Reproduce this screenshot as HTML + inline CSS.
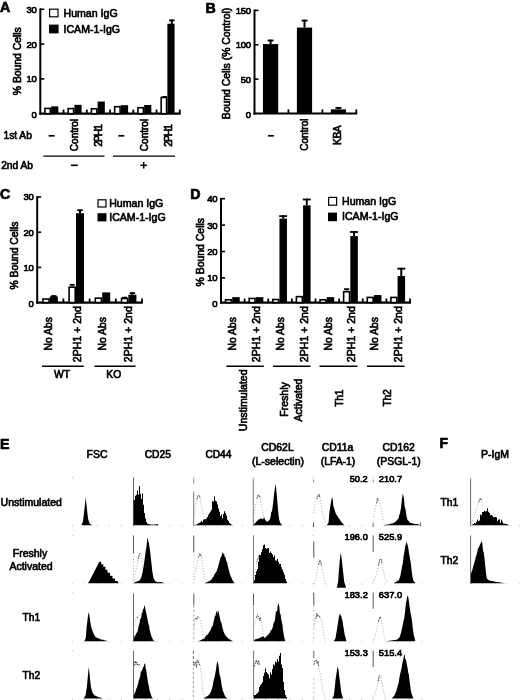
<!DOCTYPE html>
<html lang="en"><head><meta charset="utf-8"><title>Figure</title>
<style>
html,body{margin:0;padding:0;background:#fff;}
body{width:520px;height:700px;overflow:hidden;}
svg{display:block;}
svg text{fill:#000;font-family:"Liberation Sans",Arial,Helvetica,sans-serif;}
</style></head><body>
<svg width="520" height="700" viewBox="0 0 520 700" font-family="Liberation Sans, Arial, Helvetica, sans-serif">
<rect x="0" y="0" width="520" height="700" fill="#fff"/>
<text x="0.00" y="11.70" font-size="14.2" font-weight="bold" stroke="#000" stroke-width="0.7">A</text>
<line x1="40.30" y1="8.30" x2="40.30" y2="114.70" stroke="#000" stroke-width="2.0" />
<line x1="39.30" y1="113.70" x2="180.70" y2="113.70" stroke="#000" stroke-width="2.2" />
<line x1="40.30" y1="9.30" x2="44.30" y2="9.30" stroke="#000" stroke-width="1.6" />
<text x="36.45" y="12.70" font-size="9.5" text-anchor="end" letter-spacing="-0.35" stroke="#000" stroke-width="0.65">30</text>
<line x1="40.30" y1="44.10" x2="44.30" y2="44.10" stroke="#000" stroke-width="1.6" />
<text x="36.45" y="47.50" font-size="9.5" text-anchor="end" letter-spacing="-0.35" stroke="#000" stroke-width="0.65">20</text>
<line x1="40.30" y1="78.90" x2="44.30" y2="78.90" stroke="#000" stroke-width="1.6" />
<text x="36.45" y="82.30" font-size="9.5" text-anchor="end" letter-spacing="-0.35" stroke="#000" stroke-width="0.65">10</text>
<text x="36.80" y="118.10" font-size="9.5" text-anchor="end" stroke="#000" stroke-width="0.65">0</text>
<line x1="63.55" y1="113.70" x2="63.55" y2="109.60" stroke="#000" stroke-width="1.8" />
<line x1="86.80" y1="113.70" x2="86.80" y2="109.60" stroke="#000" stroke-width="1.8" />
<line x1="110.05" y1="113.70" x2="110.05" y2="109.60" stroke="#000" stroke-width="1.8" />
<line x1="133.30" y1="113.70" x2="133.30" y2="109.60" stroke="#000" stroke-width="1.8" />
<line x1="156.55" y1="113.70" x2="156.55" y2="109.60" stroke="#000" stroke-width="1.8" />
<line x1="179.80" y1="113.70" x2="179.80" y2="109.60" stroke="#000" stroke-width="1.8" />
<text transform="translate(20.50,61.20) rotate(-90)" font-size="10.3" text-anchor="middle" textLength="68" lengthAdjust="spacingAndGlyphs" stroke="#000" stroke-width="0.65">% Bound Cells</text>
<rect x="44.92" y="108.41" width="5.40" height="5.29" fill="#fff" stroke="#000" stroke-width="1.6"/>
<rect x="51.12" y="106.39" width="7.20" height="7.31" fill="#000"/>
<rect x="68.17" y="108.58" width="5.40" height="5.12" fill="#fff" stroke="#000" stroke-width="1.6"/>
<rect x="74.38" y="104.83" width="7.20" height="8.87" fill="#000"/>
<rect x="91.42" y="108.76" width="5.40" height="4.94" fill="#fff" stroke="#000" stroke-width="1.6"/>
<rect x="97.62" y="101.52" width="7.20" height="12.18" fill="#000"/>
<rect x="114.67" y="106.67" width="5.40" height="7.03" fill="#fff" stroke="#000" stroke-width="1.6"/>
<rect x="120.88" y="105.17" width="7.20" height="8.53" fill="#000"/>
<rect x="137.93" y="107.71" width="5.40" height="5.99" fill="#fff" stroke="#000" stroke-width="1.6"/>
<rect x="144.12" y="105.00" width="7.20" height="8.70" fill="#000"/>
<rect x="161.18" y="97.45" width="5.40" height="16.25" fill="#fff" stroke="#000" stroke-width="1.6"/>
<rect x="167.38" y="23.74" width="7.20" height="89.96" fill="#000"/>
<line x1="171.78" y1="19.50" x2="171.78" y2="24.00" stroke="#000" stroke-width="2.0" />
<line x1="168.97" y1="20.40" x2="174.58" y2="20.40" stroke="#000" stroke-width="1.8" />
<line x1="164.68" y1="95.97" x2="164.68" y2="97.17" stroke="#000" stroke-width="1" />
<line x1="162.48" y1="96.87" x2="166.88" y2="96.87" stroke="#000" stroke-width="1.8" />
<rect x="49.60" y="9.20" width="8.40" height="7.60" fill="#fff" stroke="#000" stroke-width="1.2"/>
<rect x="49.00" y="24.60" width="9.60" height="8.80" fill="#000"/>
<text x="63.50" y="17.00" font-size="10.6" stroke="#000" stroke-width="0.65">Human IgG</text>
<text x="63.50" y="32.80" font-size="10.6" stroke="#000" stroke-width="0.65">ICAM-1-IgG</text>
<text x="3.50" y="139.30" font-size="10.2" stroke="#000" stroke-width="0.65">1st Ab</text>
<text x="1.20" y="169.00" font-size="10.2" stroke="#000" stroke-width="0.65">2nd Ab</text>
<line x1="48.62" y1="135.80" x2="54.52" y2="135.80" stroke="#000" stroke-width="1.7" />
<text transform="translate(78.47,135.00) rotate(-90)" font-size="10" text-anchor="middle" stroke="#000" stroke-width="0.65">Control</text>
<text transform="translate(102.12,135.90) rotate(-90)" font-size="10.3" text-anchor="middle" letter-spacing="-1.05" stroke="#000" stroke-width="0.65">2PH1</text>
<line x1="118.38" y1="135.80" x2="124.27" y2="135.80" stroke="#000" stroke-width="1.7" />
<text transform="translate(148.23,135.00) rotate(-90)" font-size="10" text-anchor="middle" stroke="#000" stroke-width="0.65">Control</text>
<text transform="translate(171.88,135.90) rotate(-90)" font-size="10.3" text-anchor="middle" letter-spacing="-1.05" stroke="#000" stroke-width="0.65">2PH1</text>
<line x1="43.30" y1="156.10" x2="104.50" y2="156.10" stroke="#000" stroke-width="1.4" />
<line x1="113.00" y1="156.10" x2="175.00" y2="156.10" stroke="#000" stroke-width="1.4" />
<line x1="71.00" y1="165.30" x2="77.80" y2="165.30" stroke="#000" stroke-width="1.6" />
<line x1="140.40" y1="165.30" x2="147.00" y2="165.30" stroke="#000" stroke-width="1.5" />
<line x1="143.70" y1="162.00" x2="143.70" y2="168.60" stroke="#000" stroke-width="1.5" />
<text x="205.60" y="13.00" font-size="14.2" font-weight="bold" stroke="#000" stroke-width="0.7">B</text>
<line x1="254.50" y1="9.60" x2="254.50" y2="114.50" stroke="#000" stroke-width="2.0" />
<line x1="253.50" y1="113.50" x2="357.20" y2="113.50" stroke="#000" stroke-width="2.2" />
<line x1="254.50" y1="10.40" x2="258.50" y2="10.40" stroke="#000" stroke-width="1.6" />
<text x="250.65" y="13.80" font-size="9.5" text-anchor="end" letter-spacing="-0.35" stroke="#000" stroke-width="0.65">150</text>
<line x1="254.50" y1="44.77" x2="258.50" y2="44.77" stroke="#000" stroke-width="1.6" />
<text x="250.65" y="48.17" font-size="9.5" text-anchor="end" letter-spacing="-0.35" stroke="#000" stroke-width="0.65">100</text>
<line x1="254.50" y1="79.13" x2="258.50" y2="79.13" stroke="#000" stroke-width="1.6" />
<text x="250.65" y="82.53" font-size="9.5" text-anchor="end" letter-spacing="-0.35" stroke="#000" stroke-width="0.65">50</text>
<text x="251.00" y="117.90" font-size="9.5" text-anchor="end" stroke="#000" stroke-width="0.65">0</text>
<line x1="288.43" y1="113.50" x2="288.43" y2="109.40" stroke="#000" stroke-width="1.8" />
<line x1="322.37" y1="113.50" x2="322.37" y2="109.40" stroke="#000" stroke-width="1.8" />
<line x1="356.30" y1="113.50" x2="356.30" y2="109.40" stroke="#000" stroke-width="1.8" />
<text transform="translate(230.30,63.50) rotate(-90)" font-size="10.4" text-anchor="middle" stroke="#000" stroke-width="0.65">Bound Cells (% Control)</text>
<rect x="262.97" y="44.08" width="15.20" height="69.42" fill="#000"/>
<line x1="270.57" y1="39.61" x2="270.57" y2="44.08" stroke="#000" stroke-width="2.0" />
<line x1="267.57" y1="40.51" x2="273.57" y2="40.51" stroke="#000" stroke-width="1.8" />
<rect x="296.90" y="27.58" width="15.20" height="85.92" fill="#000"/>
<line x1="304.50" y1="19.68" x2="304.50" y2="27.58" stroke="#000" stroke-width="2.0" />
<line x1="301.50" y1="20.58" x2="307.50" y2="20.58" stroke="#000" stroke-width="1.8" />
<rect x="330.83" y="109.38" width="15.20" height="4.12" fill="#000"/>
<line x1="338.43" y1="106.97" x2="338.43" y2="109.38" stroke="#000" stroke-width="2.0" />
<line x1="335.43" y1="107.87" x2="341.43" y2="107.87" stroke="#000" stroke-width="1.8" />
<line x1="268.07" y1="135.80" x2="273.87" y2="135.80" stroke="#000" stroke-width="1.7" />
<text transform="translate(308.40,134.70) rotate(-90)" font-size="10" text-anchor="middle" stroke="#000" stroke-width="0.65">Control</text>
<text transform="translate(341.23,135.40) rotate(-90)" font-size="10.3" text-anchor="middle" letter-spacing="-0.55" stroke="#000" stroke-width="0.65">KBA</text>
<text x="0.00" y="198.70" font-size="14.2" font-weight="bold" stroke="#000" stroke-width="0.7">C</text>
<line x1="37.20" y1="196.20" x2="37.20" y2="303.60" stroke="#000" stroke-width="2.0" />
<line x1="36.20" y1="302.60" x2="142.90" y2="302.60" stroke="#000" stroke-width="2.2" />
<line x1="37.20" y1="197.00" x2="41.20" y2="197.00" stroke="#000" stroke-width="1.6" />
<text x="33.35" y="200.40" font-size="9.5" text-anchor="end" letter-spacing="-0.35" stroke="#000" stroke-width="0.65">30</text>
<line x1="37.20" y1="232.20" x2="41.20" y2="232.20" stroke="#000" stroke-width="1.6" />
<text x="33.35" y="235.60" font-size="9.5" text-anchor="end" letter-spacing="-0.35" stroke="#000" stroke-width="0.65">20</text>
<line x1="37.20" y1="267.40" x2="41.20" y2="267.40" stroke="#000" stroke-width="1.6" />
<text x="33.35" y="270.80" font-size="9.5" text-anchor="end" letter-spacing="-0.35" stroke="#000" stroke-width="0.65">10</text>
<text x="33.70" y="307.00" font-size="9.5" text-anchor="end" stroke="#000" stroke-width="0.65">0</text>
<line x1="63.40" y1="302.60" x2="63.40" y2="298.50" stroke="#000" stroke-width="1.8" />
<line x1="89.60" y1="302.60" x2="89.60" y2="298.50" stroke="#000" stroke-width="1.8" />
<line x1="115.80" y1="302.60" x2="115.80" y2="298.50" stroke="#000" stroke-width="1.8" />
<line x1="142.00" y1="302.60" x2="142.00" y2="298.50" stroke="#000" stroke-width="1.8" />
<text transform="translate(18.30,255.60) rotate(-90)" font-size="10.3" text-anchor="middle" textLength="68" lengthAdjust="spacingAndGlyphs" stroke="#000" stroke-width="0.65">% Bound Cells</text>
<rect x="42.90" y="299.00" width="6.10" height="3.60" fill="#fff" stroke="#000" stroke-width="1.6"/>
<rect x="49.80" y="296.44" width="8.00" height="6.16" fill="#000"/>
<line x1="53.80" y1="295.21" x2="53.80" y2="296.44" stroke="#000" stroke-width="2.0" />
<line x1="51.10" y1="296.11" x2="56.50" y2="296.11" stroke="#000" stroke-width="1.8" />
<rect x="69.10" y="287.21" width="6.10" height="15.39" fill="#fff" stroke="#000" stroke-width="1.6"/>
<rect x="76.00" y="213.19" width="8.00" height="89.41" fill="#000"/>
<line x1="72.20" y1="283.94" x2="72.20" y2="286.41" stroke="#000" stroke-width="1" />
<line x1="69.70" y1="284.84" x2="74.70" y2="284.84" stroke="#000" stroke-width="1.8" />
<line x1="80.00" y1="209.32" x2="80.00" y2="213.19" stroke="#000" stroke-width="2.0" />
<line x1="77.30" y1="210.22" x2="82.70" y2="210.22" stroke="#000" stroke-width="1.8" />
<rect x="95.30" y="298.12" width="6.10" height="4.48" fill="#fff" stroke="#000" stroke-width="1.6"/>
<rect x="102.20" y="292.39" width="8.00" height="10.21" fill="#000"/>
<rect x="121.50" y="298.47" width="6.10" height="4.13" fill="#fff" stroke="#000" stroke-width="1.6"/>
<rect x="128.40" y="294.68" width="8.00" height="7.92" fill="#000"/>
<line x1="124.60" y1="296.79" x2="124.60" y2="297.67" stroke="#000" stroke-width="1" />
<line x1="122.10" y1="297.69" x2="127.10" y2="297.69" stroke="#000" stroke-width="1.8" />
<line x1="132.40" y1="292.22" x2="132.40" y2="294.68" stroke="#000" stroke-width="2.0" />
<line x1="129.70" y1="293.12" x2="135.10" y2="293.12" stroke="#000" stroke-width="1.8" />
<rect x="98.00" y="199.80" width="8.00" height="7.20" fill="#fff" stroke="#000" stroke-width="1.2"/>
<rect x="97.50" y="213.20" width="9.00" height="8.20" fill="#000"/>
<text x="109.20" y="207.00" font-size="10.6" stroke="#000" stroke-width="0.65">Human IgG</text>
<text x="109.20" y="221.30" font-size="10.6" stroke="#000" stroke-width="0.65">ICAM-1-IgG</text>
<text transform="translate(51.80,333.80) rotate(-90)" font-size="10.3" text-anchor="middle" stroke="#000" stroke-width="0.65">No Abs</text>
<text transform="translate(80.80,334.20) rotate(-90)" font-size="10.4" text-anchor="middle" textLength="56" lengthAdjust="spacingAndGlyphs" stroke="#000" stroke-width="0.65">2PH1 + 2nd</text>
<text transform="translate(105.60,333.80) rotate(-90)" font-size="10.3" text-anchor="middle" stroke="#000" stroke-width="0.65">No Abs</text>
<text transform="translate(132.20,334.20) rotate(-90)" font-size="10.4" text-anchor="middle" textLength="56" lengthAdjust="spacingAndGlyphs" stroke="#000" stroke-width="0.65">2PH1 + 2nd</text>
<line x1="42.00" y1="366.20" x2="83.80" y2="366.20" stroke="#000" stroke-width="1.5" />
<line x1="94.50" y1="366.20" x2="135.60" y2="366.20" stroke="#000" stroke-width="1.5" />
<text x="62.00" y="378.00" font-size="10.3" text-anchor="middle" stroke="#000" stroke-width="0.65">WT</text>
<text x="113.80" y="378.00" font-size="10.3" text-anchor="middle" stroke="#000" stroke-width="0.65">KO</text>
<text x="190.30" y="198.70" font-size="14.2" font-weight="bold" stroke="#000" stroke-width="0.7">D</text>
<line x1="221.00" y1="197.90" x2="221.00" y2="303.60" stroke="#000" stroke-width="2.0" />
<line x1="220.00" y1="302.60" x2="410.90" y2="302.60" stroke="#000" stroke-width="2.2" />
<line x1="221.00" y1="198.70" x2="225.00" y2="198.70" stroke="#000" stroke-width="1.6" />
<text x="217.15" y="202.10" font-size="9.5" text-anchor="end" letter-spacing="-0.35" stroke="#000" stroke-width="0.65">40</text>
<line x1="221.00" y1="225.10" x2="225.00" y2="225.10" stroke="#000" stroke-width="1.6" />
<text x="217.15" y="228.50" font-size="9.5" text-anchor="end" letter-spacing="-0.35" stroke="#000" stroke-width="0.65">30</text>
<line x1="221.00" y1="251.50" x2="225.00" y2="251.50" stroke="#000" stroke-width="1.6" />
<text x="217.15" y="254.90" font-size="9.5" text-anchor="end" letter-spacing="-0.35" stroke="#000" stroke-width="0.65">20</text>
<line x1="221.00" y1="277.90" x2="225.00" y2="277.90" stroke="#000" stroke-width="1.6" />
<text x="217.15" y="281.30" font-size="9.5" text-anchor="end" letter-spacing="-0.35" stroke="#000" stroke-width="0.65">10</text>
<text x="217.50" y="307.00" font-size="9.5" text-anchor="end" stroke="#000" stroke-width="0.65">0</text>
<line x1="244.62" y1="302.60" x2="244.62" y2="298.50" stroke="#000" stroke-width="1.8" />
<line x1="268.25" y1="302.60" x2="268.25" y2="298.50" stroke="#000" stroke-width="1.8" />
<line x1="291.88" y1="302.60" x2="291.88" y2="298.50" stroke="#000" stroke-width="1.8" />
<line x1="315.50" y1="302.60" x2="315.50" y2="298.50" stroke="#000" stroke-width="1.8" />
<line x1="339.12" y1="302.60" x2="339.12" y2="298.50" stroke="#000" stroke-width="1.8" />
<line x1="362.75" y1="302.60" x2="362.75" y2="298.50" stroke="#000" stroke-width="1.8" />
<line x1="386.38" y1="302.60" x2="386.38" y2="298.50" stroke="#000" stroke-width="1.8" />
<line x1="410.00" y1="302.60" x2="410.00" y2="298.50" stroke="#000" stroke-width="1.8" />
<text transform="translate(203.90,252.20) rotate(-90)" font-size="10.3" text-anchor="middle" textLength="68.5" lengthAdjust="spacingAndGlyphs" stroke="#000" stroke-width="0.65">% Bound Cells</text>
<rect x="225.51" y="299.76" width="5.90" height="2.84" fill="#fff" stroke="#000" stroke-width="1.6"/>
<rect x="232.21" y="297.14" width="7.50" height="5.46" fill="#000"/>
<rect x="249.14" y="298.46" width="5.90" height="4.14" fill="#fff" stroke="#000" stroke-width="1.6"/>
<rect x="255.84" y="297.14" width="7.50" height="5.46" fill="#000"/>
<rect x="272.76" y="299.50" width="5.90" height="3.10" fill="#fff" stroke="#000" stroke-width="1.6"/>
<rect x="279.46" y="218.62" width="7.50" height="83.98" fill="#000"/>
<line x1="283.16" y1="215.24" x2="283.16" y2="218.62" stroke="#000" stroke-width="2.0" />
<line x1="279.16" y1="216.14" x2="287.16" y2="216.14" stroke="#000" stroke-width="1.8" />
<rect x="296.39" y="296.64" width="5.90" height="5.96" fill="#fff" stroke="#000" stroke-width="1.6"/>
<rect x="303.09" y="205.36" width="7.50" height="97.24" fill="#000"/>
<line x1="306.79" y1="198.60" x2="306.79" y2="205.36" stroke="#000" stroke-width="2.0" />
<line x1="302.79" y1="199.50" x2="310.79" y2="199.50" stroke="#000" stroke-width="1.8" />
<rect x="320.01" y="299.76" width="5.90" height="2.84" fill="#fff" stroke="#000" stroke-width="1.6"/>
<rect x="326.71" y="297.14" width="7.50" height="5.46" fill="#000"/>
<rect x="343.64" y="291.70" width="5.90" height="10.90" fill="#fff" stroke="#000" stroke-width="1.6"/>
<rect x="350.34" y="236.04" width="7.50" height="66.56" fill="#000"/>
<line x1="346.64" y1="288.30" x2="346.64" y2="290.90" stroke="#000" stroke-width="1" />
<line x1="344.04" y1="289.20" x2="349.24" y2="289.20" stroke="#000" stroke-width="1.8" />
<line x1="354.04" y1="231.10" x2="354.04" y2="236.04" stroke="#000" stroke-width="2.0" />
<line x1="350.04" y1="232.00" x2="358.04" y2="232.00" stroke="#000" stroke-width="1.8" />
<rect x="367.26" y="297.42" width="5.90" height="5.18" fill="#fff" stroke="#000" stroke-width="1.6"/>
<rect x="373.96" y="295.06" width="7.50" height="7.54" fill="#000"/>
<rect x="390.89" y="297.42" width="5.90" height="5.18" fill="#fff" stroke="#000" stroke-width="1.6"/>
<rect x="397.59" y="276.08" width="7.50" height="26.52" fill="#000"/>
<line x1="401.29" y1="267.76" x2="401.29" y2="276.08" stroke="#000" stroke-width="2.0" />
<line x1="397.29" y1="268.66" x2="405.29" y2="268.66" stroke="#000" stroke-width="1.8" />
<rect x="328.60" y="197.40" width="8.00" height="7.80" fill="#fff" stroke="#000" stroke-width="1.2"/>
<rect x="328.00" y="212.60" width="9.00" height="8.60" fill="#000"/>
<text x="342.00" y="205.00" font-size="10.6" stroke="#000" stroke-width="0.65">Human IgG</text>
<text x="342.00" y="220.30" font-size="10.6" stroke="#000" stroke-width="0.65">ICAM-1-IgG</text>
<text transform="translate(235.80,333.80) rotate(-90)" font-size="10.3" text-anchor="middle" stroke="#000" stroke-width="0.65">No Abs</text>
<text transform="translate(260.30,334.20) rotate(-90)" font-size="10.4" text-anchor="middle" textLength="56" lengthAdjust="spacingAndGlyphs" stroke="#000" stroke-width="0.65">2PH1 + 2nd</text>
<text transform="translate(284.00,333.80) rotate(-90)" font-size="10.3" text-anchor="middle" stroke="#000" stroke-width="0.65">No Abs</text>
<text transform="translate(307.70,334.20) rotate(-90)" font-size="10.4" text-anchor="middle" textLength="56" lengthAdjust="spacingAndGlyphs" stroke="#000" stroke-width="0.65">2PH1 + 2nd</text>
<text transform="translate(331.50,333.80) rotate(-90)" font-size="10.3" text-anchor="middle" stroke="#000" stroke-width="0.65">No Abs</text>
<text transform="translate(355.20,334.20) rotate(-90)" font-size="10.4" text-anchor="middle" textLength="56" lengthAdjust="spacingAndGlyphs" stroke="#000" stroke-width="0.65">2PH1 + 2nd</text>
<text transform="translate(378.40,333.80) rotate(-90)" font-size="10.3" text-anchor="middle" stroke="#000" stroke-width="0.65">No Abs</text>
<text transform="translate(402.20,334.20) rotate(-90)" font-size="10.4" text-anchor="middle" textLength="56" lengthAdjust="spacingAndGlyphs" stroke="#000" stroke-width="0.65">2PH1 + 2nd</text>
<line x1="226.30" y1="366.20" x2="263.80" y2="366.20" stroke="#000" stroke-width="1.5" />
<line x1="273.00" y1="366.20" x2="310.50" y2="366.20" stroke="#000" stroke-width="1.5" />
<line x1="319.50" y1="366.20" x2="357.50" y2="366.20" stroke="#000" stroke-width="1.5" />
<line x1="367.00" y1="366.20" x2="404.50" y2="366.20" stroke="#000" stroke-width="1.5" />
<text transform="translate(246.80,400.30) rotate(-90)" font-size="10.6" text-anchor="middle" stroke="#000" stroke-width="0.65">Unstimulated</text>
<text transform="translate(288.00,399.50) rotate(-90)" font-size="10.6" text-anchor="middle" stroke="#000" stroke-width="0.65">Freshly</text>
<text transform="translate(301.50,400.00) rotate(-90)" font-size="10.4" text-anchor="middle" stroke="#000" stroke-width="0.65">Activated</text>
<text transform="translate(342.80,398.30) rotate(-90)" font-size="10.3" text-anchor="middle" letter-spacing="-0.3" stroke="#000" stroke-width="0.65">Th1</text>
<text transform="translate(390.80,398.00) rotate(-90)" font-size="10.3" text-anchor="middle" letter-spacing="-0.3" stroke="#000" stroke-width="0.65">Th2</text>
<text x="0.00" y="448.80" font-size="14.2" font-weight="bold" stroke="#000" stroke-width="0.7">E</text>
<text x="439.50" y="447.50" font-size="13.8" font-weight="bold" stroke="#000" stroke-width="0.7">F</text>
<text x="97.00" y="458.00" font-size="10.5" text-anchor="middle" stroke="#000" stroke-width="0.65">FSC</text>
<text x="157.80" y="458.00" font-size="10.2" text-anchor="middle" stroke="#000" stroke-width="0.65">CD25</text>
<text x="218.40" y="458.00" font-size="10.2" text-anchor="middle" stroke="#000" stroke-width="0.65">CD44</text>
<text x="277.50" y="451.30" font-size="10.4" text-anchor="middle" stroke="#000" stroke-width="0.65">CD62L</text>
<text x="278.00" y="465.00" font-size="10.5" text-anchor="middle" stroke="#000" stroke-width="0.65">(L-selectin)</text>
<text x="337.50" y="451.30" font-size="10.4" text-anchor="middle" stroke="#000" stroke-width="0.65">CD11a</text>
<text x="338.00" y="465.00" font-size="10.4" text-anchor="middle" stroke="#000" stroke-width="0.65">(LFA-1)</text>
<text x="398.70" y="451.30" font-size="10.4" text-anchor="middle" stroke="#000" stroke-width="0.65">CD162</text>
<text x="398.80" y="465.00" font-size="10.4" text-anchor="middle" stroke="#000" stroke-width="0.65">(PSGL-1)</text>
<text x="495.00" y="458.00" font-size="10.5" text-anchor="middle" stroke="#000" stroke-width="0.65">P-IgM</text>
<text x="31.20" y="506.00" font-size="10.5" text-anchor="middle" stroke="#000" stroke-width="0.65">Unstimulated</text>
<text x="30.00" y="557.00" font-size="10.5" text-anchor="middle" stroke="#000" stroke-width="0.65">Freshly</text>
<text x="31.00" y="570.00" font-size="10.5" text-anchor="middle" stroke="#000" stroke-width="0.65">Activated</text>
<text x="22.50" y="621.30" font-size="10.2" stroke="#000" stroke-width="0.65">Th1</text>
<text x="22.50" y="678.80" font-size="10.2" stroke="#000" stroke-width="0.65">Th2</text>
<text x="440.60" y="506.30" font-size="10.2" stroke="#000" stroke-width="0.65">Th1</text>
<text x="440.60" y="564.00" font-size="10.2" stroke="#000" stroke-width="0.65">Th2</text>
<text x="367.80" y="481.80" font-size="9.3" text-anchor="end" stroke="#000" stroke-width="0.65">50.2</text>
<text x="378.80" y="481.80" font-size="9.3" stroke="#000" stroke-width="0.65">210.7</text>
<text x="367.80" y="539.50" font-size="9.3" text-anchor="end" stroke="#000" stroke-width="0.65">196.0</text>
<text x="378.80" y="539.50" font-size="9.3" stroke="#000" stroke-width="0.65">525.9</text>
<text x="367.80" y="597.60" font-size="9.3" text-anchor="end" stroke="#000" stroke-width="0.65">183.2</text>
<text x="378.80" y="597.60" font-size="9.3" stroke="#000" stroke-width="0.65">637.0</text>
<text x="367.80" y="655.50" font-size="9.3" text-anchor="end" stroke="#000" stroke-width="0.65">153.3</text>
<text x="378.80" y="655.50" font-size="9.3" stroke="#000" stroke-width="0.65">515.4</text>
<line x1="72.50" y1="525.20" x2="72.50" y2="526.40" stroke="#bbb" stroke-width="0.8" />
<line x1="84.70" y1="525.20" x2="84.70" y2="526.40" stroke="#bbb" stroke-width="0.8" />
<line x1="96.90" y1="525.20" x2="96.90" y2="526.40" stroke="#bbb" stroke-width="0.8" />
<line x1="109.10" y1="525.20" x2="109.10" y2="526.40" stroke="#bbb" stroke-width="0.8" />
<line x1="121.30" y1="525.20" x2="121.30" y2="526.40" stroke="#bbb" stroke-width="0.8" />
<line x1="72.00" y1="477.50" x2="73.30" y2="477.50" stroke="#bbb" stroke-width="0.8" />
<line x1="133.20" y1="525.20" x2="133.20" y2="526.40" stroke="#bbb" stroke-width="0.8" />
<line x1="145.40" y1="525.20" x2="145.40" y2="526.40" stroke="#bbb" stroke-width="0.8" />
<line x1="157.60" y1="525.20" x2="157.60" y2="526.40" stroke="#bbb" stroke-width="0.8" />
<line x1="169.80" y1="525.20" x2="169.80" y2="526.40" stroke="#bbb" stroke-width="0.8" />
<line x1="182.00" y1="525.20" x2="182.00" y2="526.40" stroke="#bbb" stroke-width="0.8" />
<line x1="132.70" y1="477.50" x2="134.00" y2="477.50" stroke="#bbb" stroke-width="0.8" />
<line x1="193.50" y1="525.20" x2="193.50" y2="526.40" stroke="#bbb" stroke-width="0.8" />
<line x1="205.70" y1="525.20" x2="205.70" y2="526.40" stroke="#bbb" stroke-width="0.8" />
<line x1="217.90" y1="525.20" x2="217.90" y2="526.40" stroke="#bbb" stroke-width="0.8" />
<line x1="230.10" y1="525.20" x2="230.10" y2="526.40" stroke="#bbb" stroke-width="0.8" />
<line x1="242.30" y1="525.20" x2="242.30" y2="526.40" stroke="#bbb" stroke-width="0.8" />
<line x1="193.00" y1="477.50" x2="194.30" y2="477.50" stroke="#bbb" stroke-width="0.8" />
<line x1="253.50" y1="525.20" x2="253.50" y2="526.40" stroke="#bbb" stroke-width="0.8" />
<line x1="265.70" y1="525.20" x2="265.70" y2="526.40" stroke="#bbb" stroke-width="0.8" />
<line x1="277.90" y1="525.20" x2="277.90" y2="526.40" stroke="#bbb" stroke-width="0.8" />
<line x1="290.10" y1="525.20" x2="290.10" y2="526.40" stroke="#bbb" stroke-width="0.8" />
<line x1="302.30" y1="525.20" x2="302.30" y2="526.40" stroke="#bbb" stroke-width="0.8" />
<line x1="253.00" y1="477.50" x2="254.30" y2="477.50" stroke="#bbb" stroke-width="0.8" />
<line x1="313.00" y1="525.20" x2="313.00" y2="526.40" stroke="#bbb" stroke-width="0.8" />
<line x1="325.20" y1="525.20" x2="325.20" y2="526.40" stroke="#bbb" stroke-width="0.8" />
<line x1="337.40" y1="525.20" x2="337.40" y2="526.40" stroke="#bbb" stroke-width="0.8" />
<line x1="349.60" y1="525.20" x2="349.60" y2="526.40" stroke="#bbb" stroke-width="0.8" />
<line x1="361.80" y1="525.20" x2="361.80" y2="526.40" stroke="#bbb" stroke-width="0.8" />
<line x1="312.50" y1="477.50" x2="313.80" y2="477.50" stroke="#bbb" stroke-width="0.8" />
<line x1="373.00" y1="525.20" x2="373.00" y2="526.40" stroke="#bbb" stroke-width="0.8" />
<line x1="385.20" y1="525.20" x2="385.20" y2="526.40" stroke="#bbb" stroke-width="0.8" />
<line x1="397.40" y1="525.20" x2="397.40" y2="526.40" stroke="#bbb" stroke-width="0.8" />
<line x1="409.60" y1="525.20" x2="409.60" y2="526.40" stroke="#bbb" stroke-width="0.8" />
<line x1="421.80" y1="525.20" x2="421.80" y2="526.40" stroke="#bbb" stroke-width="0.8" />
<line x1="372.50" y1="477.50" x2="373.80" y2="477.50" stroke="#bbb" stroke-width="0.8" />
<line x1="72.50" y1="583.20" x2="72.50" y2="584.40" stroke="#bbb" stroke-width="0.8" />
<line x1="84.70" y1="583.20" x2="84.70" y2="584.40" stroke="#bbb" stroke-width="0.8" />
<line x1="96.90" y1="583.20" x2="96.90" y2="584.40" stroke="#bbb" stroke-width="0.8" />
<line x1="109.10" y1="583.20" x2="109.10" y2="584.40" stroke="#bbb" stroke-width="0.8" />
<line x1="121.30" y1="583.20" x2="121.30" y2="584.40" stroke="#bbb" stroke-width="0.8" />
<line x1="72.00" y1="535.50" x2="73.30" y2="535.50" stroke="#bbb" stroke-width="0.8" />
<line x1="133.20" y1="583.20" x2="133.20" y2="584.40" stroke="#bbb" stroke-width="0.8" />
<line x1="145.40" y1="583.20" x2="145.40" y2="584.40" stroke="#bbb" stroke-width="0.8" />
<line x1="157.60" y1="583.20" x2="157.60" y2="584.40" stroke="#bbb" stroke-width="0.8" />
<line x1="169.80" y1="583.20" x2="169.80" y2="584.40" stroke="#bbb" stroke-width="0.8" />
<line x1="182.00" y1="583.20" x2="182.00" y2="584.40" stroke="#bbb" stroke-width="0.8" />
<line x1="132.70" y1="535.50" x2="134.00" y2="535.50" stroke="#bbb" stroke-width="0.8" />
<line x1="193.50" y1="583.20" x2="193.50" y2="584.40" stroke="#bbb" stroke-width="0.8" />
<line x1="205.70" y1="583.20" x2="205.70" y2="584.40" stroke="#bbb" stroke-width="0.8" />
<line x1="217.90" y1="583.20" x2="217.90" y2="584.40" stroke="#bbb" stroke-width="0.8" />
<line x1="230.10" y1="583.20" x2="230.10" y2="584.40" stroke="#bbb" stroke-width="0.8" />
<line x1="242.30" y1="583.20" x2="242.30" y2="584.40" stroke="#bbb" stroke-width="0.8" />
<line x1="193.00" y1="535.50" x2="194.30" y2="535.50" stroke="#bbb" stroke-width="0.8" />
<line x1="253.50" y1="583.20" x2="253.50" y2="584.40" stroke="#bbb" stroke-width="0.8" />
<line x1="265.70" y1="583.20" x2="265.70" y2="584.40" stroke="#bbb" stroke-width="0.8" />
<line x1="277.90" y1="583.20" x2="277.90" y2="584.40" stroke="#bbb" stroke-width="0.8" />
<line x1="290.10" y1="583.20" x2="290.10" y2="584.40" stroke="#bbb" stroke-width="0.8" />
<line x1="302.30" y1="583.20" x2="302.30" y2="584.40" stroke="#bbb" stroke-width="0.8" />
<line x1="253.00" y1="535.50" x2="254.30" y2="535.50" stroke="#bbb" stroke-width="0.8" />
<line x1="313.00" y1="583.20" x2="313.00" y2="584.40" stroke="#bbb" stroke-width="0.8" />
<line x1="325.20" y1="583.20" x2="325.20" y2="584.40" stroke="#bbb" stroke-width="0.8" />
<line x1="337.40" y1="583.20" x2="337.40" y2="584.40" stroke="#bbb" stroke-width="0.8" />
<line x1="349.60" y1="583.20" x2="349.60" y2="584.40" stroke="#bbb" stroke-width="0.8" />
<line x1="361.80" y1="583.20" x2="361.80" y2="584.40" stroke="#bbb" stroke-width="0.8" />
<line x1="312.50" y1="535.50" x2="313.80" y2="535.50" stroke="#bbb" stroke-width="0.8" />
<line x1="373.00" y1="583.20" x2="373.00" y2="584.40" stroke="#bbb" stroke-width="0.8" />
<line x1="385.20" y1="583.20" x2="385.20" y2="584.40" stroke="#bbb" stroke-width="0.8" />
<line x1="397.40" y1="583.20" x2="397.40" y2="584.40" stroke="#bbb" stroke-width="0.8" />
<line x1="409.60" y1="583.20" x2="409.60" y2="584.40" stroke="#bbb" stroke-width="0.8" />
<line x1="421.80" y1="583.20" x2="421.80" y2="584.40" stroke="#bbb" stroke-width="0.8" />
<line x1="372.50" y1="535.50" x2="373.80" y2="535.50" stroke="#bbb" stroke-width="0.8" />
<line x1="72.50" y1="641.20" x2="72.50" y2="642.40" stroke="#bbb" stroke-width="0.8" />
<line x1="84.70" y1="641.20" x2="84.70" y2="642.40" stroke="#bbb" stroke-width="0.8" />
<line x1="96.90" y1="641.20" x2="96.90" y2="642.40" stroke="#bbb" stroke-width="0.8" />
<line x1="109.10" y1="641.20" x2="109.10" y2="642.40" stroke="#bbb" stroke-width="0.8" />
<line x1="121.30" y1="641.20" x2="121.30" y2="642.40" stroke="#bbb" stroke-width="0.8" />
<line x1="72.00" y1="593.00" x2="73.30" y2="593.00" stroke="#bbb" stroke-width="0.8" />
<line x1="133.20" y1="641.20" x2="133.20" y2="642.40" stroke="#bbb" stroke-width="0.8" />
<line x1="145.40" y1="641.20" x2="145.40" y2="642.40" stroke="#bbb" stroke-width="0.8" />
<line x1="157.60" y1="641.20" x2="157.60" y2="642.40" stroke="#bbb" stroke-width="0.8" />
<line x1="169.80" y1="641.20" x2="169.80" y2="642.40" stroke="#bbb" stroke-width="0.8" />
<line x1="182.00" y1="641.20" x2="182.00" y2="642.40" stroke="#bbb" stroke-width="0.8" />
<line x1="132.70" y1="593.00" x2="134.00" y2="593.00" stroke="#bbb" stroke-width="0.8" />
<line x1="193.50" y1="641.20" x2="193.50" y2="642.40" stroke="#bbb" stroke-width="0.8" />
<line x1="205.70" y1="641.20" x2="205.70" y2="642.40" stroke="#bbb" stroke-width="0.8" />
<line x1="217.90" y1="641.20" x2="217.90" y2="642.40" stroke="#bbb" stroke-width="0.8" />
<line x1="230.10" y1="641.20" x2="230.10" y2="642.40" stroke="#bbb" stroke-width="0.8" />
<line x1="242.30" y1="641.20" x2="242.30" y2="642.40" stroke="#bbb" stroke-width="0.8" />
<line x1="193.00" y1="593.00" x2="194.30" y2="593.00" stroke="#bbb" stroke-width="0.8" />
<line x1="253.50" y1="641.20" x2="253.50" y2="642.40" stroke="#bbb" stroke-width="0.8" />
<line x1="265.70" y1="641.20" x2="265.70" y2="642.40" stroke="#bbb" stroke-width="0.8" />
<line x1="277.90" y1="641.20" x2="277.90" y2="642.40" stroke="#bbb" stroke-width="0.8" />
<line x1="290.10" y1="641.20" x2="290.10" y2="642.40" stroke="#bbb" stroke-width="0.8" />
<line x1="302.30" y1="641.20" x2="302.30" y2="642.40" stroke="#bbb" stroke-width="0.8" />
<line x1="253.00" y1="593.00" x2="254.30" y2="593.00" stroke="#bbb" stroke-width="0.8" />
<line x1="313.00" y1="641.20" x2="313.00" y2="642.40" stroke="#bbb" stroke-width="0.8" />
<line x1="325.20" y1="641.20" x2="325.20" y2="642.40" stroke="#bbb" stroke-width="0.8" />
<line x1="337.40" y1="641.20" x2="337.40" y2="642.40" stroke="#bbb" stroke-width="0.8" />
<line x1="349.60" y1="641.20" x2="349.60" y2="642.40" stroke="#bbb" stroke-width="0.8" />
<line x1="361.80" y1="641.20" x2="361.80" y2="642.40" stroke="#bbb" stroke-width="0.8" />
<line x1="312.50" y1="593.00" x2="313.80" y2="593.00" stroke="#bbb" stroke-width="0.8" />
<line x1="373.00" y1="641.20" x2="373.00" y2="642.40" stroke="#bbb" stroke-width="0.8" />
<line x1="385.20" y1="641.20" x2="385.20" y2="642.40" stroke="#bbb" stroke-width="0.8" />
<line x1="397.40" y1="641.20" x2="397.40" y2="642.40" stroke="#bbb" stroke-width="0.8" />
<line x1="409.60" y1="641.20" x2="409.60" y2="642.40" stroke="#bbb" stroke-width="0.8" />
<line x1="421.80" y1="641.20" x2="421.80" y2="642.40" stroke="#bbb" stroke-width="0.8" />
<line x1="372.50" y1="593.00" x2="373.80" y2="593.00" stroke="#bbb" stroke-width="0.8" />
<line x1="72.50" y1="698.60" x2="72.50" y2="699.80" stroke="#bbb" stroke-width="0.8" />
<line x1="84.70" y1="698.60" x2="84.70" y2="699.80" stroke="#bbb" stroke-width="0.8" />
<line x1="96.90" y1="698.60" x2="96.90" y2="699.80" stroke="#bbb" stroke-width="0.8" />
<line x1="109.10" y1="698.60" x2="109.10" y2="699.80" stroke="#bbb" stroke-width="0.8" />
<line x1="121.30" y1="698.60" x2="121.30" y2="699.80" stroke="#bbb" stroke-width="0.8" />
<line x1="72.00" y1="650.80" x2="73.30" y2="650.80" stroke="#bbb" stroke-width="0.8" />
<line x1="133.20" y1="698.60" x2="133.20" y2="699.80" stroke="#bbb" stroke-width="0.8" />
<line x1="145.40" y1="698.60" x2="145.40" y2="699.80" stroke="#bbb" stroke-width="0.8" />
<line x1="157.60" y1="698.60" x2="157.60" y2="699.80" stroke="#bbb" stroke-width="0.8" />
<line x1="169.80" y1="698.60" x2="169.80" y2="699.80" stroke="#bbb" stroke-width="0.8" />
<line x1="182.00" y1="698.60" x2="182.00" y2="699.80" stroke="#bbb" stroke-width="0.8" />
<line x1="132.70" y1="650.80" x2="134.00" y2="650.80" stroke="#bbb" stroke-width="0.8" />
<line x1="193.50" y1="698.60" x2="193.50" y2="699.80" stroke="#bbb" stroke-width="0.8" />
<line x1="205.70" y1="698.60" x2="205.70" y2="699.80" stroke="#bbb" stroke-width="0.8" />
<line x1="217.90" y1="698.60" x2="217.90" y2="699.80" stroke="#bbb" stroke-width="0.8" />
<line x1="230.10" y1="698.60" x2="230.10" y2="699.80" stroke="#bbb" stroke-width="0.8" />
<line x1="242.30" y1="698.60" x2="242.30" y2="699.80" stroke="#bbb" stroke-width="0.8" />
<line x1="193.00" y1="650.80" x2="194.30" y2="650.80" stroke="#bbb" stroke-width="0.8" />
<line x1="253.50" y1="698.60" x2="253.50" y2="699.80" stroke="#bbb" stroke-width="0.8" />
<line x1="265.70" y1="698.60" x2="265.70" y2="699.80" stroke="#bbb" stroke-width="0.8" />
<line x1="277.90" y1="698.60" x2="277.90" y2="699.80" stroke="#bbb" stroke-width="0.8" />
<line x1="290.10" y1="698.60" x2="290.10" y2="699.80" stroke="#bbb" stroke-width="0.8" />
<line x1="302.30" y1="698.60" x2="302.30" y2="699.80" stroke="#bbb" stroke-width="0.8" />
<line x1="253.00" y1="650.80" x2="254.30" y2="650.80" stroke="#bbb" stroke-width="0.8" />
<line x1="313.00" y1="698.60" x2="313.00" y2="699.80" stroke="#bbb" stroke-width="0.8" />
<line x1="325.20" y1="698.60" x2="325.20" y2="699.80" stroke="#bbb" stroke-width="0.8" />
<line x1="337.40" y1="698.60" x2="337.40" y2="699.80" stroke="#bbb" stroke-width="0.8" />
<line x1="349.60" y1="698.60" x2="349.60" y2="699.80" stroke="#bbb" stroke-width="0.8" />
<line x1="361.80" y1="698.60" x2="361.80" y2="699.80" stroke="#bbb" stroke-width="0.8" />
<line x1="312.50" y1="650.80" x2="313.80" y2="650.80" stroke="#bbb" stroke-width="0.8" />
<line x1="373.00" y1="698.60" x2="373.00" y2="699.80" stroke="#bbb" stroke-width="0.8" />
<line x1="385.20" y1="698.60" x2="385.20" y2="699.80" stroke="#bbb" stroke-width="0.8" />
<line x1="397.40" y1="698.60" x2="397.40" y2="699.80" stroke="#bbb" stroke-width="0.8" />
<line x1="409.60" y1="698.60" x2="409.60" y2="699.80" stroke="#bbb" stroke-width="0.8" />
<line x1="421.80" y1="698.60" x2="421.80" y2="699.80" stroke="#bbb" stroke-width="0.8" />
<line x1="372.50" y1="650.80" x2="373.80" y2="650.80" stroke="#bbb" stroke-width="0.8" />
<line x1="470.70" y1="525.20" x2="470.70" y2="526.40" stroke="#bbb" stroke-width="0.8" />
<line x1="482.90" y1="525.20" x2="482.90" y2="526.40" stroke="#bbb" stroke-width="0.8" />
<line x1="495.10" y1="525.20" x2="495.10" y2="526.40" stroke="#bbb" stroke-width="0.8" />
<line x1="507.30" y1="525.20" x2="507.30" y2="526.40" stroke="#bbb" stroke-width="0.8" />
<line x1="519.50" y1="525.20" x2="519.50" y2="526.40" stroke="#bbb" stroke-width="0.8" />
<line x1="470.20" y1="477.50" x2="471.50" y2="477.50" stroke="#bbb" stroke-width="0.8" />
<line x1="470.70" y1="583.20" x2="470.70" y2="584.40" stroke="#bbb" stroke-width="0.8" />
<line x1="482.90" y1="583.20" x2="482.90" y2="584.40" stroke="#bbb" stroke-width="0.8" />
<line x1="495.10" y1="583.20" x2="495.10" y2="584.40" stroke="#bbb" stroke-width="0.8" />
<line x1="507.30" y1="583.20" x2="507.30" y2="584.40" stroke="#bbb" stroke-width="0.8" />
<line x1="519.50" y1="583.20" x2="519.50" y2="584.40" stroke="#bbb" stroke-width="0.8" />
<line x1="470.20" y1="535.50" x2="471.50" y2="535.50" stroke="#bbb" stroke-width="0.8" />
<path d="M81.5,525.2 L82.2,523.2 L83.0,521.2 L83.7,515.0 L84.4,509.2 L85.1,503.2 L85.7,496.7 L86.3,503.3 L87.0,509.2 L87.6,514.7 L88.2,519.2 L88.7,520.7 L89.3,522.0 L89.8,523.7 L90.3,524.1 L90.9,524.4 L91.5,524.8 L92.0,525.2 Z" fill="#000"/>
<line x1="133.50" y1="477.80" x2="133.50" y2="525.70" stroke="#444" stroke-width="0.8" />
<path d="M133.6,525.2 V499.7 H134.0 V500.1 H135.0 V495.8 H136.0 V494.7 H137.0 V490.6 H138.0 V494.8 H139.0 V485.9 H140.0 V493.9 H141.0 V499.0 H142.0 V493.5 H143.0 V504.8 H144.0 V513.1 H145.0 V518.5 H146.0 V522.0 H147.0 V523.4 H148.0 V524.1 H149.0 V524.2 H150.0 V524.4 H151.0 V524.6 H152.0 V524.5 H153.0 V524.8 H154.0 V524.6 H155.0 V524.5 H156.0 V524.0 H157.0 V524.2 H158.0 V524.9 H158.5 V525.2 Z" fill="#000"/>
<line x1="193.70" y1="478.70" x2="193.70" y2="483.50" stroke="#666" stroke-width="0.8" />
<line x1="193.70" y1="491.50" x2="193.70" y2="525.70" stroke="#555" stroke-width="0.8" />
<path d="M194.2,515.2 L195.5,506.2 L197.0,499.2 L198.7,495.2 L200.2,498.2 L201.3,505.2 L202.3,508.2 L203.3,516.2 L204.6,522.2" fill="none" stroke="#999" stroke-width="0.8" stroke-dasharray="1 1.8"/>
<path d="M197.0,499.2 L197.8,495.7 L198.7,495.2 L199.4,495.8 L200.2,498.2" fill="none" stroke="#333" stroke-width="0.9" stroke-dasharray="1.6 0.9"/>
<path d="M194.0,525.2 V525.1 H195.0 V524.7 H196.0 V524.5 H197.0 V523.9 H198.0 V523.2 H199.0 V522.8 H200.0 V522.3 H201.0 V520.9 H202.0 V522.3 H203.0 V519.8 H204.0 V519.2 H205.0 V519.3 H206.0 V518.6 H207.0 V517.1 H208.0 V514.7 H209.0 V513.2 H210.0 V511.7 H211.0 V510.1 H212.0 V501.2 H213.0 V501.6 H214.0 V496.5 H215.0 V500.7 H216.0 V501.6 H217.0 V504.6 H218.0 V508.6 H219.0 V511.7 H220.0 V516.1 H221.0 V514.4 H222.0 V518.3 H223.0 V514.1 H224.0 V511.3 H225.0 V513.1 H226.0 V515.5 H227.0 V519.8 H228.0 V521.0 H229.0 V522.9 H230.0 V523.7 H231.0 V524.4 H232.0 V524.9 H233.0 V525.2 Z" fill="#000"/>
<line x1="253.30" y1="478.70" x2="253.30" y2="525.70" stroke="#555" stroke-width="0.8" />
<path d="M254.0,513.2 L255.5,505.2 L257.0,498.2 L258.7,495.2 L260.2,498.2 L261.3,506.2 L262.3,508.2 L263.3,515.2 L264.6,518.2" fill="none" stroke="#999" stroke-width="0.8" stroke-dasharray="1 1.8"/>
<path d="M257.0,498.2 L257.9,495.2 L258.7,495.2 L259.4,495.2 L260.2,498.2" fill="none" stroke="#333" stroke-width="0.9" stroke-dasharray="1.6 0.9"/>
<path d="M253.6,525.2 L254.3,524.1 L255.0,523.2 L255.6,522.7 L256.2,522.1 L256.8,521.1 L257.4,520.4 L258.0,520.2 L258.6,519.2 L259.2,519.4 L259.9,518.7 L260.5,518.2 L261.2,519.0 L261.8,518.2 L262.5,519.2 L263.2,519.0 L264.0,517.2 L264.8,518.9 L265.5,520.2 L266.2,521.0 L266.8,521.4 L267.5,521.7 L268.1,520.9 L268.8,520.8 L269.4,519.8 L270.0,519.2 L270.7,516.0 L271.3,511.9 L272.0,511.2 L272.8,505.8 L273.5,499.2 L274.2,492.8 L275.0,487.2 L275.8,483.7 L276.3,490.3 L276.8,495.2 L277.4,502.6 L278.0,509.2 L278.6,515.4 L279.3,520.2 L279.9,521.7 L280.4,522.7 L281.0,524.2 L281.7,524.6 L282.3,524.9 L283.0,525.2 Z" fill="#000"/>
<line x1="313.60" y1="479.50" x2="313.60" y2="482.50" stroke="#777" stroke-width="0.9" />
<line x1="313.60" y1="522.50" x2="313.60" y2="527.00" stroke="#444" stroke-width="0.9" />
<path d="M313.8,513.2 L315.0,504.2 L316.5,498.2 L317.4,496.1 L318.3,494.7 L319.8,497.2 L321.0,503.2 L322.3,512.2 L323.8,518.2 L325.5,522.2 L327.0,524.7" fill="none" stroke="#999" stroke-width="0.8" stroke-dasharray="1 1.8"/>
<path d="M316.5,498.2 L317.4,498.5 L318.3,494.7 L319.1,493.9 L319.8,497.2" fill="none" stroke="#333" stroke-width="0.9" stroke-dasharray="1.6 0.9"/>
<path d="M327.0,525.2 L327.5,524.1 L328.1,523.2 L328.6,522.2 L329.4,512.2 L330.0,508.6 L330.6,504.2 L331.1,501.6 L331.6,499.2 L332.2,496.9 L332.9,500.2 L333.4,506.4 L333.8,507.2 L334.4,509.1 L335.0,511.2 L335.8,513.4 L336.5,514.7 L337.2,515.8 L337.8,516.5 L338.5,518.0 L339.2,518.5 L339.8,519.8 L340.5,520.7 L341.2,521.7 L341.8,522.4 L342.5,523.2 L343.1,523.9 L343.7,524.5 L344.3,525.2 Z" fill="#000"/>
<line x1="373.20" y1="479.50" x2="373.20" y2="482.50" stroke="#777" stroke-width="0.9" />
<line x1="373.20" y1="522.50" x2="373.20" y2="527.00" stroke="#666" stroke-width="0.9" />
<path d="M373.5,517.2 L375.0,509.2 L376.7,503.2 L378.3,500.7 L379.8,503.2 L381.3,510.2 L382.8,518.2 L384.3,522.7 L385.8,524.7" fill="none" stroke="#999" stroke-width="0.8" stroke-dasharray="1 1.8"/>
<path d="M376.7,503.2 L377.5,498.0 L378.3,500.7" fill="none" stroke="#333" stroke-width="0.9" stroke-dasharray="1.6 0.9"/>
<path d="M383.5,525.2 L384.1,525.1 L384.7,525.0 L385.3,524.8 L385.9,524.8 L386.6,524.7 L387.2,524.5 L387.8,524.4 L388.4,524.3 L389.0,524.2 L389.6,524.2 L390.1,523.9 L390.7,523.8 L391.3,523.6 L391.9,523.6 L392.4,523.4 L393.0,523.2 L393.6,522.9 L394.2,522.5 L394.8,521.9 L395.4,521.9 L396.0,521.2 L396.6,520.4 L397.2,519.5 L397.9,519.4 L398.5,518.2 L399.2,515.2 L400.0,513.2 L400.9,508.2 L401.4,503.4 L402.0,499.2 L402.5,495.1 L403.0,493.9 L403.5,496.5 L404.0,498.2 L404.6,506.2 L405.3,508.2 L405.9,512.0 L406.5,516.2 L407.1,518.5 L407.7,520.2 L408.3,520.7 L408.9,521.2 L409.4,522.2 L410.0,522.7 L410.6,522.7 L411.1,523.0 L411.7,523.2 L412.3,523.2 L412.9,523.4 L413.4,523.5 L414.0,523.7 L414.6,523.7 L415.1,523.9 L415.7,523.9 L416.3,523.9 L416.9,524.1 L417.4,524.0 L418.0,524.2 L418.6,524.4 L419.3,524.7 L420.0,524.9 L420.6,525.2 Z" fill="#000"/>
<line x1="420.40" y1="522.20" x2="420.40" y2="526.40" stroke="#555" stroke-width="0.9" />
<line x1="470.60" y1="478.80" x2="470.60" y2="526.20" stroke="#444" stroke-width="0.8" />
<path d="M471.3,523.2 L472.6,520.2 L474.0,516.2 L475.5,512.2 L477.0,507.2 L478.6,502.2 L480.4,498.2 L481.6,500.2 L482.8,507.2" fill="none" stroke="#999" stroke-width="0.8" stroke-dasharray="1 1.8"/>
<path d="M478.6,502.2 L479.5,499.7 L480.4,498.2 L481.0,500.0 L481.6,500.2" fill="none" stroke="#333" stroke-width="0.9" stroke-dasharray="1.6 0.9"/>
<path d="M471.3,525.2 V525.0 H472.0 V524.4 H473.0 V523.9 H474.0 V522.9 H475.0 V523.4 H476.0 V522.1 H477.0 V519.6 H478.0 V521.0 H479.0 V520.6 H480.0 V514.5 H481.0 V515.2 H482.0 V511.9 H483.0 V512.0 H484.0 V510.7 H485.0 V511.6 H486.0 V511.0 H487.0 V508.2 H488.0 V511.7 H489.0 V512.9 H490.0 V515.3 H491.0 V515.0 H492.0 V515.7 H493.0 V517.2 H494.0 V517.1 H495.0 V517.0 H496.0 V517.5 H497.0 V520.7 H498.0 V519.8 H499.0 V519.3 H500.0 V523.0 H501.0 V519.8 H502.0 V521.7 H503.0 V523.4 H504.0 V523.7 H505.0 V523.7 H506.0 V524.1 H507.0 V524.6 H508.0 V524.9 H509.0 V525.1 H509.5 V525.2 Z" fill="#000"/>
<path d="M88.0,583.2 L90.3,579.2 L93.2,573.7 L96.0,568.2 L98.3,563.7 L99.5,561.8 L101.2,561.8 L101.2,564.2 L103.3,564.2 L103.3,566.7 L105.4,566.7 L105.4,569.7 L107.5,569.7 L107.5,572.7 L110.0,572.7 L110.0,575.7 L112.5,575.7 L112.5,578.5 L115.0,578.5 L115.0,581.0 L117.6,581.0 L118.6,583.2 Z" fill="#000"/>
<line x1="133.50" y1="535.80" x2="133.50" y2="553.00" stroke="#444" stroke-width="0.9" />
<line x1="133.50" y1="553.00" x2="133.50" y2="583.20" stroke="#999" stroke-width="0.7" stroke-dasharray="1.2 1.8"/>
<path d="M134.0,580.2 L135.3,574.2 L136.7,566.2 L138.2,559.2 L139.6,554.2 L140.4,552.9 L141.4,556.2 L142.3,563.2 L143.2,571.2" fill="none" stroke="#999" stroke-width="0.8" stroke-dasharray="1 1.8"/>
<path d="M138.2,559.2 L138.9,555.6 L139.6,554.2 L140.4,552.9" fill="none" stroke="#333" stroke-width="0.9" stroke-dasharray="1.6 0.9"/>
<path d="M133.7,583.2 L134.3,582.6 L135.0,582.0 L135.6,581.9 L136.2,581.7 L136.8,581.6 L137.4,581.3 L138.0,581.2 L138.6,580.8 L139.2,580.5 L139.8,580.2 L140.6,578.7 L141.3,577.2 L141.9,574.8 L142.6,572.2 L143.1,569.2 L143.6,566.2 L144.1,563.0 L144.5,560.2 L145.1,555.9 L145.6,551.2 L146.2,548.8 L146.8,543.2 L147.4,537.8 L148.0,539.6 L148.5,542.2 L149.0,543.2 L149.6,548.2 L150.2,552.2 L150.8,557.4 L151.3,562.2 L151.8,566.0 L152.3,571.2 L152.8,574.1 L153.3,577.2 L153.9,578.7 L154.4,579.7 L155.0,581.0 L155.6,581.2 L156.2,581.4 L156.8,581.8 L157.4,581.9 L158.0,582.2 L158.6,582.2 L159.2,582.1 L159.8,582.0 L160.4,582.1 L161.0,582.0 L161.6,582.2 L162.2,582.4 L162.8,582.6 L163.4,582.8 L164.0,583.0 L164.6,583.2 Z" fill="#000"/>
<line x1="193.80" y1="535.80" x2="193.80" y2="552.00" stroke="#444" stroke-width="0.9" />
<line x1="193.80" y1="552.00" x2="193.80" y2="583.20" stroke="#aaa" stroke-width="0.6" stroke-dasharray="1 2"/>
<path d="M194.2,580.2 L195.3,573.2 L196.8,564.2 L198.4,557.2 L200.0,553.7 L201.4,557.2 L202.6,564.2 L203.8,573.2 L205.0,579.2 L206.2,582.2" fill="none" stroke="#999" stroke-width="0.8" stroke-dasharray="1 1.8"/>
<path d="M198.4,557.2 L199.2,555.8 L200.0,553.7 L200.7,554.5 L201.4,557.2" fill="none" stroke="#333" stroke-width="0.9" stroke-dasharray="1.6 0.9"/>
<path d="M204.6,583.2 L205.2,582.9 L205.7,582.8 L206.3,582.5 L206.9,582.2 L207.4,582.0 L208.0,581.7 L208.6,581.3 L209.2,581.3 L209.8,580.8 L210.4,580.2 L211.0,580.2 L211.6,579.2 L212.1,578.4 L212.7,577.4 L213.2,576.9 L213.8,576.2 L214.4,574.5 L214.9,573.7 L215.4,573.2 L216.0,572.2 L216.6,571.4 L217.2,569.2 L217.8,568.2 L218.6,564.4 L219.3,562.2 L220.1,559.0 L220.8,557.2 L221.4,556.6 L222.0,554.2 L222.5,552.1 L223.0,553.0 L223.6,554.1 L224.2,554.2 L224.8,557.1 L225.5,557.2 L226.2,560.8 L227.0,562.2 L227.7,565.3 L228.4,568.2 L229.0,570.4 L229.6,573.2 L230.1,574.8 L230.7,576.2 L231.3,577.3 L231.9,578.9 L232.5,580.2 L233.2,581.2 L233.9,582.2 L234.6,583.2 Z" fill="#000"/>
<line x1="253.50" y1="535.80" x2="253.50" y2="583.70" stroke="#555" stroke-width="0.8" />
<path d="M254.3,578.2 L255.6,570.2 L257.0,562.2 L258.4,556.7 L259.3,554.7" fill="none" stroke="#999" stroke-width="0.8" stroke-dasharray="1 1.8"/>
<path d="M257.0,562.2 L257.7,560.0 L258.4,556.7 L259.3,554.7" fill="none" stroke="#333" stroke-width="0.9" stroke-dasharray="1.6 0.9"/>
<path d="M253.8,583.2 V582.7 H254.0 V580.2 H255.0 V574.9 H256.0 V571.2 H257.0 V569.1 H258.0 V561.9 H259.0 V554.9 H260.0 V555.1 H261.0 V552.3 H262.0 V549.2 H263.0 V545.3 H264.0 V544.4 H265.0 V547.9 H266.0 V548.8 H267.0 V548.2 H268.0 V548.1 H269.0 V553.0 H270.0 V551.4 H271.0 V552.9 H272.0 V554.6 H273.0 V556.9 H274.0 V555.4 H275.0 V560.3 H276.0 V560.7 H277.0 V559.0 H278.0 V562.1 H279.0 V564.0 H280.0 V564.1 H281.0 V567.3 H282.0 V569.8 H283.0 V572.3 H284.0 V574.7 H285.0 V579.0 H286.0 V581.5 H287.0 V583.2 Z" fill="#000"/>
<line x1="313.80" y1="541.50" x2="313.80" y2="557.70" stroke="#444" stroke-width="0.9" />
<path d="M313.8,586.7 L315.5,579.7 L317.0,571.7 L318.5,564.7 L320.0,560.2 L321.5,565.7 L323.0,573.7 L323.9,578.1 L324.8,581.7 L325.9,584.7 L327.0,587.2" fill="none" stroke="#999" stroke-width="0.8" stroke-dasharray="1 1.8"/>
<path d="M318.5,564.7 L319.2,562.6 L320.0,560.2 L320.8,561.3 L321.5,565.7" fill="none" stroke="#333" stroke-width="0.9" stroke-dasharray="1.6 0.9"/>
<path d="M336.8,587.7 L337.4,585.2 L338.0,582.7 L338.9,570.7 L339.4,565.0 L339.8,559.7 L340.3,556.5 L340.8,552.2 L341.3,556.2 L341.8,559.7 L342.4,565.4 L343.0,570.7 L343.6,576.2 L344.2,581.7 L344.8,583.7 L345.5,585.7 L346.1,587.7 Z" fill="#000"/>
<line x1="373.20" y1="535.80" x2="373.20" y2="552.00" stroke="#444" stroke-width="0.9" />
<path d="M373.0,582.2 L374.0,580.2 L375.0,578.2 L375.9,575.2 L376.8,572.2 L378.5,565.2 L379.8,560.2 L380.7,558.7 L382.0,563.2 L383.5,571.2 L385.0,578.2 L386.0,580.3 L387.0,582.2" fill="none" stroke="#999" stroke-width="0.8" stroke-dasharray="1 1.8"/>
<path d="M378.5,565.2 L379.1,562.4 L379.8,560.2 L380.7,558.7 L381.4,560.4 L382.0,563.2" fill="none" stroke="#333" stroke-width="0.9" stroke-dasharray="1.6 0.9"/>
<path d="M393.5,583.2 L394.2,582.8 L394.9,582.5 L395.5,582.1 L396.2,581.7 L396.8,581.4 L397.3,581.0 L397.9,580.6 L398.4,580.4 L399.0,580.0 L399.6,578.1 L400.3,576.2 L401.0,572.4 L401.7,568.2 L402.4,565.1 L403.0,562.2 L403.5,556.4 L404.0,554.2 L404.6,550.8 L405.2,546.2 L405.9,544.6 L406.5,541.4 L407.1,543.5 L407.7,545.2 L408.4,548.4 L409.0,553.2 L409.6,556.3 L410.1,559.2 L410.7,562.2 L411.1,566.2 L411.6,570.2 L412.5,577.2 L413.1,579.3 L413.7,581.2 L414.3,581.8 L414.9,582.5 L415.5,583.2 Z" fill="#000"/>
<line x1="470.60" y1="536.00" x2="470.60" y2="584.00" stroke="#444" stroke-width="0.8" />
<path d="M470.9,583.2 L470.9,574.2 L471.4,572.5 L472.0,570.9 L472.5,569.2 L473.2,566.5 L474.0,563.7 L474.6,561.8 L475.2,559.7 L475.7,557.0 L476.3,556.1 L476.8,553.7 L477.4,551.5 L477.9,548.3 L478.5,548.2 L479.2,546.2 L480.0,544.7 L480.7,543.1 L481.4,542.2 L481.9,540.4 L482.5,545.2 L483.1,551.8 L483.6,551.2 L484.5,558.2 L485.3,566.2 L486.0,573.2 L486.8,578.2 L487.4,578.9 L487.9,579.6 L488.5,580.0 L489.1,580.5 L489.8,580.3 L490.4,580.7 L491.0,580.9 L491.6,581.1 L492.2,580.7 L492.7,581.1 L493.3,581.2 L493.9,581.5 L494.5,581.6 L495.1,581.7 L495.7,581.7 L496.3,582.0 L497.0,582.0 L497.6,582.1 L498.2,582.1 L498.8,582.2 L499.4,582.3 L500.0,582.5 L500.7,582.5 L501.3,582.6 L501.9,582.7 L502.5,582.8 L503.1,582.9 L503.8,583.0 L504.4,583.1 L505.0,583.2 Z" fill="#000"/>
<path d="M84.3,641.2 L85.0,639.7 L85.7,638.2 L86.6,627.2 L87.2,622.8 L87.8,617.2 L88.3,614.1 L88.9,612.2 L89.8,618.2 L90.3,621.6 L90.8,625.2 L91.4,627.6 L92.0,629.7 L92.8,631.5 L93.5,633.7 L94.1,634.5 L94.8,636.0 L95.4,636.7 L96.1,637.3 L96.7,637.6 L97.3,637.9 L98.0,638.2 L98.6,638.6 L99.2,638.5 L99.8,638.9 L100.4,639.2 L101.0,639.4 L101.6,639.6 L102.2,639.8 L102.8,639.8 L103.3,639.8 L103.9,640.0 L104.5,640.2 L105.1,640.4 L105.7,640.5 L106.2,640.7 L106.8,640.8 L107.4,641.0 L108.0,641.2 Z" fill="#000"/>
<line x1="133.50" y1="593.80" x2="133.50" y2="641.70" stroke="#444" stroke-width="0.8" />
<path d="M134.2,625.2 L135.5,620.2 L136.8,617.2 L138.0,617.7 L139.2,614.7" fill="none" stroke="#999" stroke-width="0.8" stroke-dasharray="1 1.8"/>
<path d="M136.8,617.2 L138.0,617.7" fill="none" stroke="#333" stroke-width="0.9" stroke-dasharray="1.6 0.9"/>
<path d="M133.8,641.2 L133.8,638.2 L134.4,636.8 L134.9,635.8 L135.5,635.2 L136.2,633.8 L137.0,632.2 L137.5,631.5 L138.0,629.7 L138.6,626.2 L139.2,624.2 L139.8,622.1 L140.4,618.2 L141.1,618.2 L141.8,612.7 L142.4,612.9 L143.0,608.7 L143.7,609.2 L144.3,605.2 L144.9,606.3 L145.5,609.7 L146.0,611.4 L146.5,614.2 L147.3,618.2 L147.9,621.3 L148.5,624.2 L149.0,625.1 L149.5,629.2 L150.3,632.2 L151.0,634.9 L151.7,637.2 L152.3,638.1 L152.9,639.5 L153.5,640.7 L154.1,640.8 L154.8,641.0 L155.4,641.1 L156.0,641.2 Z" fill="#000"/>
<line x1="193.80" y1="593.80" x2="193.80" y2="605.30" stroke="#444" stroke-width="0.9" />
<line x1="193.80" y1="605.30" x2="193.80" y2="641.20" stroke="#888" stroke-width="0.7" stroke-dasharray="2.5 2"/>
<path d="M194.0,627.2 L194.8,621.2 L195.6,618.2 L196.6,618.0 L197.5,616.7 L199.0,617.2 L200.2,619.2 L201.3,624.2 L202.3,631.2 L203.4,637.2 L204.6,640.4" fill="none" stroke="#999" stroke-width="0.8" stroke-dasharray="1 1.8"/>
<path d="M195.6,618.2 L196.6,619.8 L197.5,616.7 L198.2,617.5 L199.0,617.2" fill="none" stroke="#333" stroke-width="0.9" stroke-dasharray="1.6 0.9"/>
<path d="M197.7,641.2 L198.2,641.0 L198.8,640.9 L199.3,640.7 L199.9,640.5 L200.4,640.3 L201.0,640.2 L201.6,639.8 L202.2,639.3 L202.8,639.3 L203.4,639.0 L204.0,638.7 L204.6,638.2 L205.2,636.9 L205.8,636.2 L206.4,635.3 L206.9,635.3 L207.4,634.7 L208.0,634.2 L208.7,632.9 L209.3,631.8 L210.0,631.2 L210.6,630.0 L211.1,628.8 L211.6,627.3 L212.2,625.7 L212.8,626.5 L213.4,622.5 L214.0,620.2 L214.8,616.1 L215.5,615.7 L216.2,611.3 L216.8,611.7 L217.3,614.8 L217.8,610.0 L218.3,611.3 L218.8,612.2 L219.4,615.5 L220.0,618.2 L220.5,621.1 L221.0,622.2 L221.5,622.9 L222.0,625.7 L222.8,629.0 L223.5,631.2 L224.2,632.9 L225.0,634.7 L225.6,635.4 L226.2,636.2 L226.8,637.1 L227.3,637.4 L227.9,638.1 L228.5,638.7 L229.1,639.0 L229.8,639.5 L230.4,639.8 L231.0,640.2 L231.6,640.4 L232.2,640.7 L232.9,640.9 L233.5,641.2 Z" fill="#000"/>
<line x1="253.50" y1="593.80" x2="253.50" y2="605.30" stroke="#444" stroke-width="0.9" />
<line x1="253.50" y1="605.30" x2="253.50" y2="641.20" stroke="#777" stroke-width="0.7" />
<path d="M254.2,626.2 L255.3,620.2 L256.5,617.7 L257.5,619.3 L258.5,616.7 L259.6,615.4 L260.7,617.7 L261.8,623.2 L262.8,630.2 L263.8,634.7" fill="none" stroke="#999" stroke-width="0.8" stroke-dasharray="1 1.8"/>
<path d="M256.5,617.7 L257.5,614.5 L258.5,616.7 L259.2,617.9 L260.0,621.0 L260.7,617.7" fill="none" stroke="#333" stroke-width="0.9" stroke-dasharray="1.6 0.9"/>
<path d="M253.9,641.2 L254.4,640.3 L255.0,639.4 L255.6,639.1 L256.2,639.5 L256.8,638.6 L257.4,638.9 L258.0,638.6 L258.6,638.4 L259.2,638.2 L259.8,637.7 L260.4,637.4 L261.0,637.2 L261.6,636.9 L262.2,636.6 L262.9,636.7 L263.5,636.2 L264.1,637.0 L264.6,638.2 L265.3,637.5 L266.0,636.7 L266.7,636.2 L267.3,635.3 L268.0,635.2 L268.7,634.2 L269.3,633.1 L270.0,632.7 L270.8,630.1 L271.5,630.2 L272.1,629.2 L272.7,627.2 L273.4,624.1 L274.0,622.2 L274.6,621.6 L275.3,617.2 L275.9,610.8 L276.5,611.7 L277.1,611.6 L277.6,606.2 L278.5,603.0 L279.4,607.2 L279.9,613.6 L280.5,613.7 L281.2,619.0 L282.0,622.7 L282.5,624.9 L283.0,630.2 L283.5,632.9 L284.0,636.2 L284.7,639.0 L285.4,641.2 Z" fill="#000"/>
<line x1="313.80" y1="592.60" x2="313.80" y2="605.30" stroke="#444" stroke-width="0.9" />
<line x1="313.80" y1="605.30" x2="313.80" y2="641.20" stroke="#999" stroke-width="0.6" stroke-dasharray="2 2.5"/>
<path d="M314.0,627.2 L314.7,621.2 L315.4,617.7 L316.4,616.6 L317.5,616.6 L318.8,617.5 L320.0,617.2 L321.3,620.2 L322.5,626.2 L323.7,633.2 L324.8,638.2 L325.8,640.6" fill="none" stroke="#999" stroke-width="0.8" stroke-dasharray="1 1.8"/>
<path d="M315.4,617.7 L316.1,618.4 L316.8,613.2 L317.5,616.6 L318.3,615.6 L319.2,615.6 L320.0,617.2" fill="none" stroke="#333" stroke-width="0.9" stroke-dasharray="1.6 0.9"/>
<path d="M333.8,641.2 L334.4,640.2 L334.9,639.2 L335.5,638.2 L336.0,635.1 L336.5,632.2 L337.3,627.2 L338.2,621.2 L339.0,616.2 L339.5,614.7 L340.0,613.0 L340.5,615.8 L341.0,615.2 L341.5,617.3 L342.0,619.2 L342.5,621.1 L343.0,624.2 L343.8,629.2 L344.3,632.3 L344.8,635.2 L345.4,637.1 L345.9,639.2 L346.5,641.2 Z" fill="#000"/>
<line x1="373.20" y1="592.60" x2="373.20" y2="608.80" stroke="#444" stroke-width="0.9" />
<path d="M373.6,640.2 L375.3,635.2 L377.0,628.2 L378.5,621.7 L380.0,616.8 L381.2,619.2 L382.4,626.2 L383.8,634.2 L385.2,639.2 L386.2,640.7" fill="none" stroke="#999" stroke-width="0.8" stroke-dasharray="1 1.8"/>
<path d="M378.5,621.7 L379.2,618.7 L380.0,616.8 L381.2,619.2" fill="none" stroke="#333" stroke-width="0.9" stroke-dasharray="1.6 0.9"/>
<path d="M386.0,641.2 L386.6,641.1 L387.2,641.0 L387.8,641.0 L388.4,640.9 L389.0,640.8 L389.6,640.7 L390.2,640.6 L390.8,640.6 L391.4,640.5 L392.0,640.4 L392.6,640.3 L393.2,640.2 L393.8,640.1 L394.4,640.0 L394.9,639.9 L395.5,639.9 L396.1,639.7 L396.7,639.6 L397.3,639.6 L397.9,639.1 L398.4,638.5 L398.9,637.8 L399.5,637.2 L400.1,635.7 L400.6,633.9 L401.2,632.2 L401.9,628.8 L402.7,625.2 L403.4,621.6 L404.2,618.2 L404.8,614.0 L405.3,609.2 L406.0,602.6 L406.6,600.2 L407.1,597.0 L407.7,595.4 L408.2,597.0 L408.8,600.2 L409.4,605.8 L410.0,609.2 L410.5,613.1 L411.1,615.1 L411.6,618.2 L412.2,622.9 L412.8,628.2 L413.3,631.7 L413.8,635.2 L414.6,638.1 L415.3,641.2 Z" fill="#000"/>
<path d="M83.5,698.6 L84.2,697.7 L84.8,696.5 L85.5,695.6 L86.2,691.3 L86.8,687.6 L87.3,682.6 L87.9,675.6 L88.8,667.1 L89.3,671.6 L89.8,676.6 L90.3,681.6 L90.9,686.6 L91.6,689.5 L92.3,692.1 L92.8,693.3 L93.4,694.0 L94.0,694.5 L94.5,695.4 L95.1,695.6 L95.7,695.9 L96.2,696.1 L96.8,696.5 L97.4,696.6 L98.0,697.0 L98.6,697.3 L99.2,697.3 L99.7,697.5 L100.3,697.6 L100.9,697.8 L101.5,698.0 L102.1,698.2 L102.6,698.3 L103.2,698.4 L103.8,698.6 Z" fill="#000"/>
<line x1="133.50" y1="651.00" x2="133.50" y2="698.60" stroke="#444" stroke-width="0.8" />
<path d="M134.0,665.6 L135.3,661.1 L136.6,662.1 L138.0,665.6 L139.5,664.1 L141.0,667.1" fill="none" stroke="#999" stroke-width="0.8" stroke-dasharray="1 1.8"/>
<path d="M134.0,665.6 L134.7,663.1 L135.3,661.1 L135.9,664.5 L136.6,662.1 L137.3,664.5 L138.0,665.6 L138.8,665.1 L139.5,664.1" fill="none" stroke="#333" stroke-width="0.9" stroke-dasharray="1.6 0.9"/>
<path d="M133.8,698.6 L133.8,695.1 L134.4,693.9 L134.9,693.0 L135.5,691.6 L136.2,688.8 L136.8,688.1 L137.5,685.6 L138.2,683.4 L138.8,680.3 L139.5,678.6 L140.2,676.3 L140.8,671.6 L141.5,671.6 L142.2,669.9 L143.0,667.6 L143.8,666.6 L144.5,663.6 L145.2,663.7 L145.8,668.6 L146.4,671.2 L147.0,675.6 L147.8,681.2 L148.5,684.6 L149.2,688.7 L150.0,692.1 L150.8,694.3 L151.5,696.6 L152.2,697.5 L152.8,698.6 Z" fill="#000"/>
<line x1="193.40" y1="651.00" x2="193.40" y2="663.00" stroke="#555" stroke-width="0.9" stroke-dasharray="3 2"/>
<line x1="193.40" y1="663.00" x2="193.40" y2="698.60" stroke="#777" stroke-width="0.7" stroke-dasharray="2.5 2"/>
<path d="M193.8,665.6 L195.5,661.6 L196.4,659.4 L197.3,660.1 L198.8,663.6 L200.0,665.6 L201.0,671.6 L201.8,680.6 L202.8,689.6 L204.0,695.6 L205.5,697.6" fill="none" stroke="#999" stroke-width="0.8" stroke-dasharray="1 1.8"/>
<path d="M193.8,665.6 L194.7,663.5 L195.5,661.6 L196.4,667.5 L197.3,660.1 L198.1,660.2 L198.8,663.6 L200.0,665.6" fill="none" stroke="#333" stroke-width="0.9" stroke-dasharray="1.6 0.9"/>
<path d="M202.5,698.6 L203.1,698.4 L203.7,698.2 L204.2,697.9 L204.8,697.6 L205.4,697.3 L206.0,697.1 L206.6,696.4 L207.2,696.3 L207.8,696.0 L208.4,695.3 L209.0,695.1 L209.7,693.9 L210.3,692.9 L211.0,691.6 L211.6,690.1 L212.2,687.6 L212.8,685.6 L213.4,681.5 L213.9,679.5 L214.5,677.6 L215.2,674.1 L216.0,669.6 L216.8,663.4 L217.5,661.0 L218.2,663.9 L218.8,667.6 L219.4,673.9 L220.0,675.6 L220.8,679.3 L221.5,684.6 L222.2,687.7 L223.0,691.6 L223.7,692.5 L224.3,694.6 L225.0,696.1 L225.6,696.9 L226.2,697.3 L226.9,697.9 L227.5,698.6 Z" fill="#000"/>
<line x1="253.60" y1="651.00" x2="253.60" y2="698.60" stroke="#555" stroke-width="0.8" />
<path d="M254.2,666.6 L255.3,662.6 L256.5,660.1 L258.0,663.6 L259.4,665.6" fill="none" stroke="#999" stroke-width="0.8" stroke-dasharray="1 1.8"/>
<path d="M254.2,666.6 L255.3,662.6 L256.5,660.1 L257.2,663.7 L258.0,663.6 L258.7,660.4 L259.4,665.6" fill="none" stroke="#333" stroke-width="0.9" stroke-dasharray="1.6 0.9"/>
<path d="M253.9,698.6 V698.3 H254.0 V695.1 H255.0 V695.1 H256.0 V694.0 H257.0 V693.3 H258.0 V691.7 H259.0 V686.9 H260.0 V685.3 H261.0 V683.9 H262.0 V682.2 H263.0 V676.1 H264.0 V672.7 H265.0 V668.5 H266.0 V672.0 H267.0 V673.5 H268.0 V674.4 H269.0 V678.2 H270.0 V672.3 H271.0 V674.6 H272.0 V668.9 H273.0 V664.2 H274.0 V665.6 H275.0 V661.5 H276.0 V662.5 H277.0 V658.9 H278.0 V661.4 H279.0 V655.8 H280.0 V653.0 H281.0 V664.6 H282.0 V668.0 H283.0 V682.1 H284.0 V690.1 H285.0 V695.1 H286.0 V697.1 H287.0 V698.5 H287.1 V698.6 Z" fill="#000"/>
<line x1="313.80" y1="651.00" x2="313.80" y2="658.00" stroke="#555" stroke-width="0.9" />
<line x1="313.80" y1="678.00" x2="313.80" y2="698.60" stroke="#999" stroke-width="0.6" stroke-dasharray="2 2.5"/>
<path d="M313.9,664.6 L315.0,660.6 L316.2,660.1 L317.4,663.6 L318.7,666.6 L319.9,671.6 L321.0,678.6 L322.0,685.6 L323.2,691.6 L324.5,696.1 L325.8,698.1" fill="none" stroke="#999" stroke-width="0.8" stroke-dasharray="1 1.8"/>
<path d="M313.9,664.6 L315.0,660.6 L316.2,660.1 L317.4,663.6 L318.0,661.1 L318.7,666.6" fill="none" stroke="#333" stroke-width="0.9" stroke-dasharray="1.6 0.9"/>
<path d="M332.2,698.6 L332.7,697.6 L333.3,696.6 L333.8,695.6 L334.4,690.7 L335.0,685.6 L335.5,680.1 L336.0,676.6 L336.5,673.4 L337.0,669.6 L337.8,666.6 L338.6,670.6 L339.5,678.6 L340.3,684.6 L340.8,688.7 L341.3,692.6 L341.9,694.6 L342.4,696.6 L343.0,698.6 Z" fill="#000"/>
<line x1="373.20" y1="651.00" x2="373.20" y2="667.00" stroke="#444" stroke-width="0.9" />
<path d="M373.4,697.6 L375.0,693.6 L376.7,687.6 L378.2,681.1 L379.4,675.6 L380.6,677.1 L382.0,683.6 L383.6,691.6 L385.0,696.6 L386.2,698.1" fill="none" stroke="#999" stroke-width="0.8" stroke-dasharray="1 1.8"/>
<path d="M378.2,681.1 L379.4,675.6 L380.0,676.4 L380.6,677.1" fill="none" stroke="#333" stroke-width="0.9" stroke-dasharray="1.6 0.9"/>
<path d="M391.5,698.6 L392.2,697.9 L392.8,697.3 L393.5,696.6 L394.2,695.7 L394.8,694.5 L395.5,693.1 L396.2,691.6 L396.8,688.9 L397.5,687.1 L398.1,684.4 L398.6,683.3 L399.2,679.1 L399.7,676.3 L400.3,673.3 L400.8,671.6 L401.6,667.9 L402.3,663.6 L403.0,660.6 L403.6,657.6 L404.1,654.7 L404.7,655.0 L405.2,660.2 L405.8,658.6 L406.4,662.0 L407.0,665.6 L407.6,668.3 L408.2,672.6 L408.8,674.2 L409.3,678.6 L409.8,682.7 L410.3,686.6 L410.9,690.7 L411.5,693.6 L412.2,695.2 L412.8,697.0 L413.5,698.6 Z" fill="#000"/>
</svg>
</body></html>
